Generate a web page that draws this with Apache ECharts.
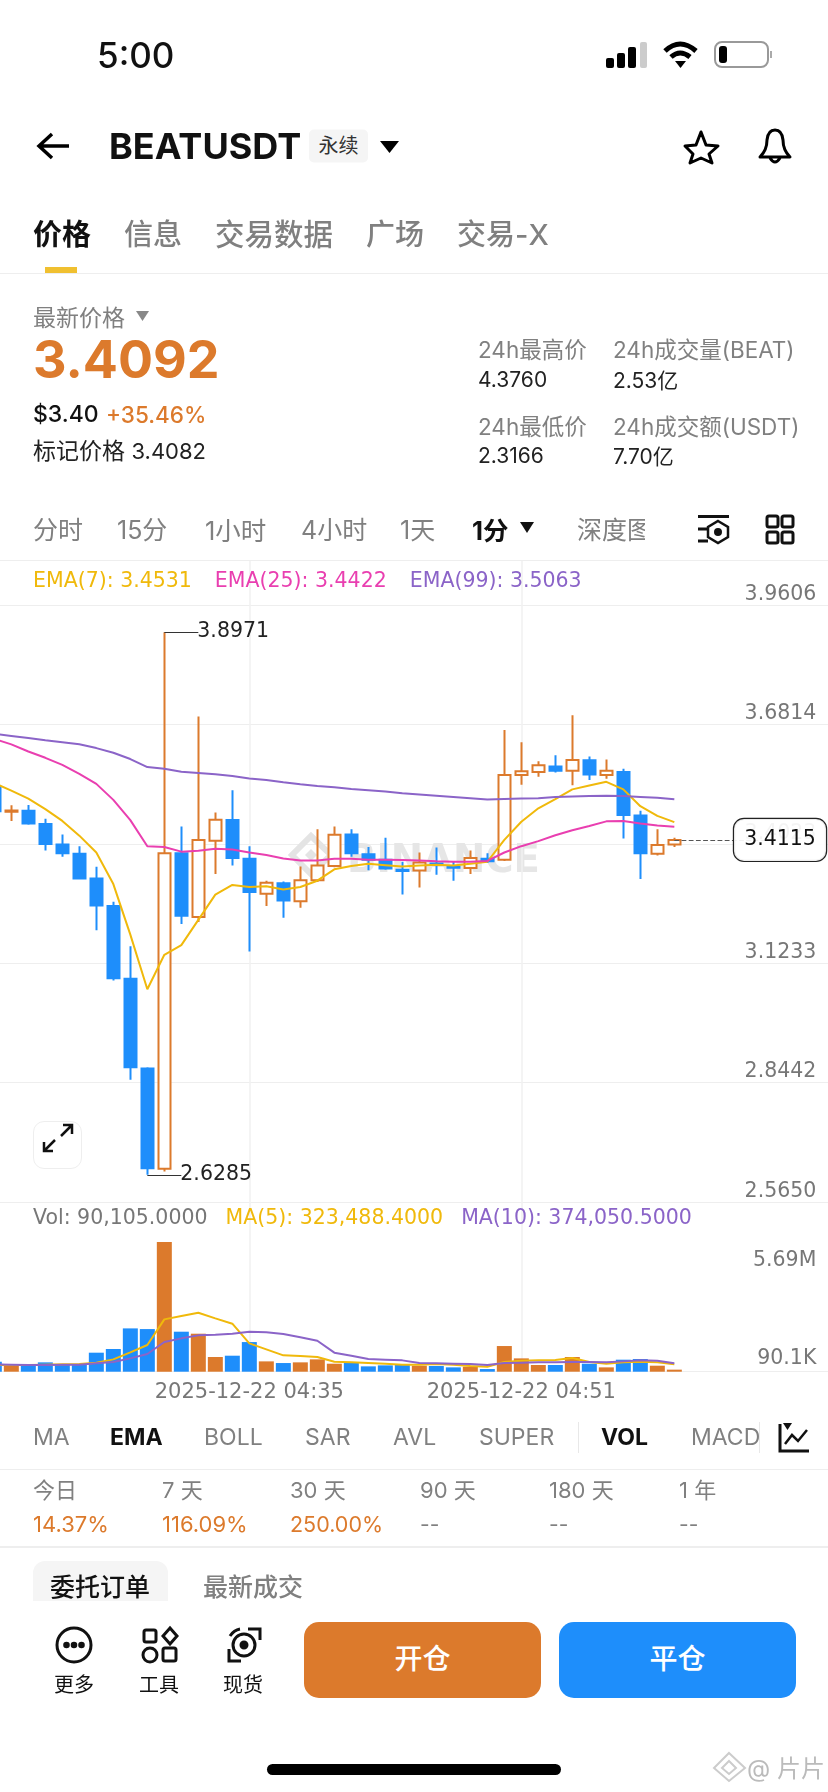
<!DOCTYPE html>
<html>
<head>
<meta charset="utf-8">
<title>BEATUSDT</title>
<style>
html, body { margin: 0; padding: 0; background: #fff; }
body { position: relative; width: 828px; height: 1792px; overflow: hidden; font-family: Inter, "Noto Sans CJK SC", sans-serif; color: #111; }
#klineChart { position: absolute; left: 0; top: 0; width: 828px; height: 1792px; }
.t { position: absolute; white-space: nowrap; transform: translateY(-50%); }
.g { color: #808080; }
.o { color: #dc7a2c; }
.b { font-weight: 700; }
.line { position: absolute; left: 0; width: 828px; height: 1px; background: #eee; }
svg { position: absolute; overflow: visible; }
.btn { position: absolute; top: 1622px; width: 237px; height: 76px; line-height: 74px; border-radius: 15px; color: #fff; font-size: 28px; text-align: center; font-weight: 500; }
</style>
</head>
<body>
<div id="klineChart"></div>

<!-- 状态栏 -->
<div class="t" style="left:97px;top:55px;font-size:35px;font-weight:500;">5:00</div>
<svg style="left:0;top:0;" width="828" height="120">
  <rect x="606" y="58" width="8" height="10" rx="2"/><rect x="617" y="53" width="8" height="15" rx="2"/><rect x="628" y="47" width="8" height="21" rx="2"/><rect x="640" y="42" width="7" height="26" rx="2" fill="#ccc"/>
  <path d="M665 51 Q680 37 696 51 M671 57 Q680 49 690 57" fill="none" stroke="#000" stroke-width="5"/><path d="M675 61 L686 61 L680.500 68 Z"/>
  <rect x="715" y="42" width="53" height="25" rx="7" fill="none" stroke="#999" stroke-width="2"/><rect x="719" y="46" width="8" height="17" rx="3"/><rect x="770" y="51" width="2" height="7" fill="#aaa"/>
</svg>

<!-- 标题 -->
<svg style="left:0;top:0;" width="828" height="240" fill="none" stroke="#000" stroke-width="3.500">
  <path d="M69 146 L39 146 M52 134 L39 146 L52 158"/>
  <path d="M701 132 L706 145 L718 146 L709 154 L712 163 L701 158 L690 163 L693 154 L685 146 L696 145 Z" stroke-width="3" stroke-linejoin="round"/>
  <path d="M760 157 Q767 150 767 140 Q768 130 775 130 Q782 130 783 140 Q783 150 790 157 Z M770 158 Q775 166 780 158" stroke-width="3" stroke-linejoin="round"/>
  <path d="M380 141 L399 141 L389.500 153 Z" fill="#000" stroke="none"/>
</svg>
<div class="t b" style="left:109px;top:146px;font-size:36px;">BEATUSDT</div>
<div class="t" style="left:309px;top:146px;width:59px;height:33px;line-height:33px;text-align:center;background:#f5f5f5;border-radius:5px;font-size:20px;color:#333;">永续</div>

<!-- 页签 -->
<div class="t b" style="left:33px;top:232px;font-size:29px;">价格</div>
<div class="t g" style="left:124px;top:232px;font-size:29px;font-weight:500;">信息</div>
<div class="t g" style="left:215px;top:232px;font-size:29.500px;font-weight:500;">交易数据</div>
<div class="t g" style="left:366px;top:232px;font-size:29px;font-weight:500;">广场</div>
<div class="t g" style="left:457px;top:232px;font-size:29px;font-weight:500;">交易-X</div>
<div style="position:absolute;left:45px;top:267px;width:32px;height:6px;background:#f0c030;"></div>
<div class="line" style="top:273px;"></div>

<!-- 行情 -->
<div class="t g" style="left:33px;top:316px;font-size:23px;">最新价格</div>
<svg style="left:0;top:0;" width="200" height="330"><path d="M136 311 L149 311 L142.500 321 Z" fill="#888"/></svg>
<div class="t o b" style="left:33px;top:359px;font-size:52px;">3.4092</div>
<div class="t" style="left:33px;top:414px;font-size:23px;font-weight:500;">$3.40</div>
<div class="t o" style="left:106px;top:414px;font-size:22.500px;font-weight:500;">+35.46%</div>
<div class="t" style="left:33px;top:449px;font-size:23px;color:#222;">标记价格 <span style="font-size:22px;">3.4082</span></div>
<div class="t g" style="left:478px;top:348px;font-size:22.500px;">24h最高价</div>
<div class="t" style="left:478px;top:379px;font-size:21px;color:#222;">4.3760</div>
<div class="t g" style="left:478px;top:425px;font-size:22.500px;">24h最低价</div>
<div class="t" style="left:478px;top:455px;font-size:21px;color:#222;">2.3166</div>
<div class="t g" style="left:613px;top:348px;font-size:22.500px;">24h成交量(BEAT)</div>
<div class="t" style="left:613px;top:379px;font-size:21px;color:#222;">2.53亿</div>
<div class="t g" style="left:613px;top:425px;font-size:22.500px;">24h成交额(USDT)</div>
<div class="t" style="left:613px;top:455px;font-size:21px;color:#222;">7.70亿</div>

<!-- 周期 -->
<div class="t g" style="left:33px;top:528px;font-size:25px;">分时</div>
<div class="t g" style="left:117px;top:528px;font-size:25px;">15分</div>
<div class="t g" style="left:205px;top:528px;font-size:25.500px;">1小时</div>
<div class="t g" style="left:301px;top:528px;font-size:25px;">4小时</div>
<div class="t g" style="left:400px;top:528px;font-size:25px;">1天</div>
<div class="t b" style="left:472px;top:528px;font-size:25.500px;">1分</div>
<div class="t g" style="left:577px;top:528px;font-size:25px;width:68px;overflow:hidden;">深度图</div>
<svg style="left:0;top:500px;" width="828" height="60" fill="none" stroke="#111" stroke-width="3">
  <path d="M520 22 L534 22 L527 33 Z" fill="#111" stroke="none"/>
  <path d="M698 16.500 L729 16.500 M698 29 L708 29 M698 41 L708 41"/>
  <path d="M718 21 L728 27 L728 37 L718 43 L708 37 L708 27 Z" stroke-width="2.500"/><circle cx="718" cy="32" r="2.500" fill="#111"/>
  <rect x="767" y="16" width="11" height="11" rx="2"/><rect x="782" y="16" width="11" height="11" rx="2"/><rect x="767" y="32" width="11" height="11" rx="2"/><rect x="782" y="32" width="11" height="11" rx="2"/>
</svg>
<div class="line" style="top:560px;"></div>

<!-- 放大按钮 -->
<div style="position:absolute;left:33px;top:1121px;width:47px;height:46px;border:1.500px solid #eee;border-radius:11px;background:#fff;"></div>
<svg style="left:0;top:1100px;" width="100" height="80" fill="none" stroke="#111" stroke-width="2.500">
  <path d="M61 36 L72 25 M63 25 L72 25 L72 34 M44 51 L55 40 M44 42 L44 51 L53 51"/>
</svg>

<!-- 指标 -->
<div class="t g" style="left:33px;top:1437px;font-size:23px;">MA</div>
<div class="t b" style="left:110px;top:1437px;font-size:23px;">EMA</div>
<div class="t g" style="left:204px;top:1437px;font-size:23px;">BOLL</div>
<div class="t g" style="left:305px;top:1437px;font-size:23px;">SAR</div>
<div class="t g" style="left:393px;top:1437px;font-size:23px;">AVL</div>
<div class="t g" style="left:479px;top:1437px;font-size:23px;">SUPER</div>
<div class="t b" style="left:601px;top:1437px;font-size:23px;">VOL</div>
<div class="t g" style="left:691px;top:1437px;font-size:23px;width:68px;overflow:hidden;">MACD</div>
<div style="position:absolute;left:578px;top:1422px;width:1px;height:31px;background:#e8e8e8;"></div>
<div style="position:absolute;left:759px;top:1422px;width:1px;height:31px;background:#e8e8e8;"></div>
<svg style="left:0;top:1400px;" width="828" height="60" fill="none" stroke="#111" stroke-width="3">
  <path d="M780 24 L780 51 L809 51"/><path d="M785 44 L792 35 L798 41 L807 30" stroke-width="2.500"/><path d="M783 23 L792 23 L787.500 30 Z" fill="#111" stroke="none"/>
</svg>
<div class="line" style="top:1469px;"></div>

<!-- 涨跌幅 -->
<div class="t g" style="left:33px;top:1488px;font-size:22px;">今日</div>
<div class="t g" style="left:162px;top:1488px;font-size:22px;">7 天</div>
<div class="t g" style="left:290px;top:1488px;font-size:22px;">30 天</div>
<div class="t g" style="left:420px;top:1488px;font-size:22px;">90 天</div>
<div class="t g" style="left:549px;top:1488px;font-size:22px;">180 天</div>
<div class="t g" style="left:679px;top:1488px;font-size:22px;">1 年</div>
<div class="t o" style="left:33px;top:1524px;font-size:22px;">14.37%</div>
<div class="t o" style="left:162px;top:1524px;font-size:22px;">116.09%</div>
<div class="t o" style="left:290px;top:1524px;font-size:21.500px;">250.00%</div>
<div class="t g" style="left:420px;top:1524px;font-size:21px;">--</div>
<div class="t g" style="left:549px;top:1524px;font-size:21px;">--</div>
<div class="t g" style="left:679px;top:1524px;font-size:21px;">--</div>
<div class="line" style="top:1546px;height:2px;"></div>

<!-- 委托 -->
<div style="position:absolute;left:33px;top:1561px;width:135px;height:40px;background:#f5f5f5;border-radius:12px 12px 0 0;"></div>
<div class="t" style="left:50px;top:1585px;font-size:25px;font-weight:500;">委托订单</div>
<div class="t g" style="left:203px;top:1585px;font-size:25px;font-weight:500;">最新成交</div>

<!-- 底部 -->
<svg style="left:0;top:1600px;" width="300" height="80" fill="none" stroke="#111" stroke-width="3">
  <circle cx="74" cy="45" r="17"/><circle cx="66.500" cy="45" r="1.800" fill="#111"/><circle cx="74" cy="45" r="1.800" fill="#111"/><circle cx="81.500" cy="45" r="1.800" fill="#111"/>
  <rect x="144" y="30" width="12" height="12" rx="2"/><path d="M170 28 L177 36 L170 44 L163 36 Z"/><circle cx="150" cy="55" r="7"/><rect x="163" y="48" width="13" height="13" rx="2"/>
  <circle cx="244" cy="45" r="11"/><circle cx="244" cy="45" r="3" fill="#111"/><path d="M248 29 L260 29 L260 40 M229 49 L229 61 L241 61 M230 36 Q234 30 240 29"/>
</svg>
<div class="t" style="left:54px;top:1683px;font-size:20px;">更多</div>
<div class="t" style="left:139px;top:1683px;font-size:20px;">工具</div>
<div class="t" style="left:223px;top:1683px;font-size:20px;">现货</div>
<div class="btn" style="left:304px;background:#dc7a2c;">开仓</div>
<div class="btn" style="left:559px;background:#1e8efb;">平仓</div>
<div style="position:absolute;left:267px;top:1764px;width:294px;height:11px;border-radius:6px;background:#000;"></div>

<!-- 水印 -->
<svg style="left:0;top:1740px;" width="828" height="50" fill="none" stroke="#ccc" stroke-width="2">
  <path d="M729 13 L745 28 L729 41 L714 28 Z M729 21 L736 28 L729 34 L722 28 Z"/>
</svg>
<div class="t" style="left:747px;top:1766px;font-size:24px;color:#bbb;">@ 片片</div>

<script src="https://cdn.jsdelivr.net/npm/echarts@6/dist/echarts.min.js"></script>
<script>
// 分钟K线 04:20 开始
var categories = ['04:20','04:21','04:22','04:23','04:24','04:25','04:26','04:27','04:28','04:29',
    '04:30','04:31','04:32','04:33','04:34','04:35','04:36','04:37','04:38','04:39',
    '04:40','04:41','04:42','04:43','04:44','04:45','04:46','04:47','04:48','04:49',
    '04:50','04:51','04:52','04:53','04:54','04:55','04:56','04:57','04:58','04:59',
    '05:00','05:01','05:02','05:03','05:04','05:05','05:06','05:07','05:08','05:09'];
var dateLabels = ['04:35', '04:51'];
var datePrefix = '2025-12-22 ';

var opens = [3.5345,3.4775,3.4794,3.4489,3.4007,3.3791,3.3210,3.2571,3.0868,2.8772,
    2.6430,3.3801,3.2315,3.4096,3.4578,3.3673,3.2856,3.3102,3.2679,3.3171,
    3.3505,3.4243,3.3781,3.3653,3.3417,3.3397,3.3564,3.3486,3.3456,3.3673,
    3.3653,3.5631,3.5700,3.5828,3.5729,3.5975,3.5631,3.5700,3.4686,3.3791,3.4007];
var closes = [3.4785,3.4804,3.4499,3.4017,3.3801,3.3210,3.2580,3.0878,2.8802,2.6440,
    3.3801,3.2344,3.4115,3.4588,3.3692,3.2895,3.3112,3.2698,3.3171,3.3515,
    3.4233,3.3801,3.3653,3.3446,3.3387,3.3584,3.3545,3.3466,3.3692,3.3614,
    3.5631,3.5719,3.5857,3.5729,3.5985,3.5641,3.5729,3.4696,3.3801,3.3997,3.4115];
var lows = [3.4755,3.4558,3.4470,3.3869,3.3722,3.3200,3.2000,3.0829,2.8507,2.6285,
    2.6361,3.2147,3.2197,3.3318,3.3515,3.1508,3.2571,3.2295,3.2531,3.3131,
    3.3476,3.3722,3.3407,3.3417,3.2836,3.3004,3.3299,3.3161,3.3318,3.3574,
    3.3623,3.5404,3.5591,3.5690,3.5395,3.5513,3.5542,3.4145,3.3200,3.3751,3.3948];
var highs = [3.5444,3.4922,3.4932,3.4607,3.4243,3.3968,3.3486,3.2669,3.1626,2.8802,
    3.8971,3.4430,3.6999,3.4755,3.5277,3.3968,3.3161,3.3141,3.3495,3.4361,
    3.4430,3.4361,3.3948,3.4165,3.3604,3.3820,3.3938,3.3604,3.3869,3.3801,
    3.6684,3.6398,3.5955,3.6093,3.7028,3.6064,3.5995,3.5778,3.4794,3.4361,3.4165];

var ema7 = [3.5444,3.5267,3.5080,3.4834,3.4558,3.4214,3.3820,3.3082,3.1901,3.0622,
    3.1429,3.1655,3.2246,3.2836,3.3063,3.3013,3.3033,3.2954,3.3013,3.3161,
    3.3427,3.3505,3.3555,3.3525,3.3495,3.3515,3.3535,3.3515,3.3555,3.3604,
    3.4115,3.4539,3.4853,3.5070,3.5296,3.5385,3.5473,3.5296,3.4903,3.4676,3.4531];
var ema25 = [3.6477,3.6349,3.6182,3.6034,3.5867,3.5660,3.5424,3.5050,3.4578,3.3968,
    3.3948,3.3840,3.3860,3.3909,3.3889,3.3820,3.3761,3.3682,3.3633,3.3633,
    3.3673,3.3673,3.3653,3.3653,3.3643,3.3633,3.3614,3.3604,3.3604,3.3623,
    3.3820,3.3968,3.4086,3.4224,3.4342,3.4440,3.4548,3.4558,3.4499,3.4450,3.4422];
var ema99 = [3.6595,3.6546,3.6497,3.6447,3.6398,3.6349,3.6261,3.6152,3.6005,3.5818,
    3.5778,3.5709,3.5680,3.5650,3.5611,3.5552,3.5513,3.5463,3.5414,3.5375,
    3.5345,3.5306,3.5277,3.5247,3.5208,3.5178,3.5149,3.5119,3.5090,3.5060,
    3.5070,3.5080,3.5090,3.5119,3.5129,3.5139,3.5149,3.5139,3.5119,3.5099,3.5063];

var volumes = [439000,293000,336000,410000,336000,336000,834000,995000,1900000,1870000,
    5690000,1755000,1667000,644000,702000,1300000,453000,380000,410000,541000,
    351000,395000,234000,278000,307000,263000,249000,190000,219000,117000,
    1126000,585000,293000,293000,644000,351000,190000,527000,556000,263000,90105];
var volMa5 = [293000,293000,293000,307000,322000,336000,395000,541000,848000,1170000,
    2296000,2443000,2589000,2340000,2106000,1243000,980000,717000,687000,644000,
    439000,410000,380000,351000,307000,307000,336000,307000,249000,219000,
    424000,483000,497000,512000,600000,424000,351000,410000,439000,410000,323488];
var volMa10 = [322000,307000,293000,293000,307000,307000,366000,424000,585000,775000,
    1302000,1463000,1594000,1624000,1667000,1755000,1726000,1653000,1507000,1360000,
    834000,702000,556000,527000,497000,380000,366000,351000,336000,293000,
    380000,395000,410000,410000,424000,424000,410000,453000,497000,483000,374050];

var priceTicks = [2.5650, 2.8442, 3.1233, 3.4023, 3.6814, 3.9606];
var volumeTicks = [90105, 5690000];
var priceMin = 2.5650;
var priceMax = 4.0658;
var volumeMax = 7445000;
var lastPrice = 3.4115;
var peakIndex = 10;
var troughIndex = 9;

var colorUp = '#dc7a2c';
var colorDown = '#1e8efb';
var chartFont = 'DejaVu Sans';
var chartFontSize = 20.5;
var legendText = {
    'EMA(7)': 'EMA(7): 3.4531',
    'EMA(25)': 'EMA(25): 3.4422',
    'EMA(99)': 'EMA(99): 3.5063',
    'Vol': 'Vol: 90,105.0000',
    'MA(5)': 'MA(5): 323,488.4000',
    'MA(10)': 'MA(10): 374,050.5000'
};

var initKline = function () {
    var myChart = echarts.init(document.getElementById('klineChart'));

    var candleData = [];
    var volumeData = [];
    for (var i = 0; i < opens.length; i++) {
        candleData.push([opens[i], closes[i], lows[i], highs[i]]);
        volumeData.push({
            value: volumes[i],
            itemStyle: {color: closes[i] >= opens[i] ? colorUp : colorDown}
        });
    }
    var lastIndex = opens.length - 1;

    function isDateTick(index) {
        return dateLabels.indexOf(categories[index]) >= 0;
    }

    function categoryAxis(gridIndex, showLabel) {
        return {
            type: 'category',
            gridIndex: gridIndex,
            data: categories,
            boundaryGap: true,
            axisLine: {show: showLabel, lineStyle: {color: '#eee'}},
            axisTick: {show: false},
            splitLine: {show: false},
            axisLabel: {
                show: showLabel,
                interval: isDateTick,
                margin: 10,
                color: '#777',
                fontFamily: chartFont,
                fontSize: 21,
                formatter: function (val) {
                    return datePrefix + val;
                }
            }
        };
    }

    function lineSeries(name, data, color, axisIndex, width) {
        return {
            name: name,
            type: 'line',
            xAxisIndex: axisIndex,
            yAxisIndex: axisIndex,
            data: data,
            symbol: 'none',
            smooth: false,
            silent: true,
            z: 5,
            lineStyle: {color: color, width: width},
            itemStyle: {color: color}
        };
    }

    // 日期竖线,压在K线下面
    function dateLineSeries(axisIndex) {
        return {
            name: 'dateLine' + axisIndex,
            type: 'line',
            xAxisIndex: axisIndex,
            yAxisIndex: axisIndex,
            data: [],
            silent: true,
            z: 1,
            markLine: {
                z: 1,
                silent: true,
                symbol: 'none',
                animation: false,
                label: {show: false},
                lineStyle: {color: '#f0f0f0', width: 1.5, type: 'solid'},
                data: dateLabels.map(function (name) {
                    return {xAxis: name};
                })
            }
        };
    }

    function extremeLine(index, value) {
        return [{
            coord: [index, value],
            label: {show: true, position: 'end', distance: -1, padding: [4, 0, 0, 0], formatter: value.toFixed(4),
                color: '#222', fontFamily: chartFont, fontSize: chartFontSize},
            lineStyle: {color: '#333', width: 1, type: 'solid'}
        }, {
            coord: [index + 2, value]
        }];
    }

    myChart.setOption({
        animation: false,
        grid: [
            {left: -14.17, width: 850, top: 560, height: 642, outerBoundsMode: 'none'},
            {left: -14.17, width: 850, top: 1202, height: 169.7, outerBoundsMode: 'none'}
        ],
        legend: [
            {
                left: 28, top: 571, padding: 0, itemWidth: 0, itemHeight: 0, itemGap: 18,
                icon: 'none', selectedMode: false,
                textStyle: {fontFamily: chartFont, fontSize: chartFontSize, padding: 0},
                data: [
                    {name: 'EMA(7)', textStyle: {color: '#f0b90b'}},
                    {name: 'EMA(25)', textStyle: {color: '#e93fb0'}},
                    {name: 'EMA(99)', textStyle: {color: '#8b64c8'}}
                ],
                formatter: function (name) {
                    return legendText[name];
                }
            },
            {
                left: 28, top: 1208, padding: 0, itemWidth: 0, itemHeight: 0, itemGap: 13,
                icon: 'none', selectedMode: false,
                textStyle: {fontFamily: chartFont, fontSize: chartFontSize, padding: 0},
                data: [
                    {name: 'Vol', textStyle: {color: '#777'}},
                    {name: 'MA(5)', textStyle: {color: '#f0b90b'}},
                    {name: 'MA(10)', textStyle: {color: '#8b64c8'}}
                ],
                formatter: function (name) {
                    return legendText[name];
                }
            }
        ],
        xAxis: [categoryAxis(0, false), categoryAxis(1, true)],
        yAxis: [
            {
                type: 'value',
                gridIndex: 0,
                position: 'right',
                min: priceMin,
                max: priceMax,
                axisLine: {show: false},
                axisTick: {show: false, customValues: priceTicks},
                splitLine: {show: true, lineStyle: {color: '#eee'}},
                axisLabel: {
                    inside: true,
                    customValues: priceTicks,
                    margin: 19.5,
                    verticalAlign: 'bottom',
                    color: '#777',
                    fontFamily: chartFont,
                    fontSize: chartFontSize,
                    formatter: function (val) {
                        return val.toFixed(4);
                    }
                }
            },
            {
                type: 'value',
                gridIndex: 1,
                position: 'right',
                min: 0,
                max: volumeMax,
                axisLine: {show: false},
                axisTick: {show: false, customValues: volumeTicks},
                splitLine: {show: false},
                axisLabel: {
                    inside: true,
                    customValues: volumeTicks,
                    margin: 19.5,
                    verticalAlignMinLabel: 'bottom',
                    verticalAlignMaxLabel: 'top',
                    color: '#777',
                    fontFamily: chartFont,
                    fontSize: chartFontSize,
                    formatter: function (val) {
                        if (val >= 1000000) {
                            return '{hi|' + (val / 1000000).toFixed(2) + 'M}';
                        }
                        return (val / 1000).toFixed(1) + 'K';
                    },
                    rich: {
                        hi: {padding: [8, 0, 0, 0], color: '#777', fontFamily: chartFont, fontSize: chartFontSize}
                    }
                }
            }
        ],
        graphic: [
            // 水印
            {
                type: 'text', left: 347, top: 842, silent: true, z: 1,
                style: {text: 'BINANCE', fill: '#e6e6e6', font: 'bold 38.6px "DejaVu Sans"'}
            },
            {
                type: 'polygon', silent: true, z: 1,
                shape: {points: [[311, 836], [331, 855], [311, 874], [292, 855]]},
                style: {fill: 'none', stroke: '#e4e4e4', lineWidth: 6}
            },
            {
                type: 'polygon', silent: true, z: 1,
                shape: {points: [[311, 849], [317, 855], [311, 861], [305, 855]]},
                style: {fill: '#e4e4e4'}
            }
        ],
        series: [
            dateLineSeries(0),
            dateLineSeries(1),
            {
                name: 'K',
                type: 'candlestick',
                xAxisIndex: 0,
                yAxisIndex: 0,
                data: candleData,
                barWidth: 13,
                z: 3,
                itemStyle: {
                    color: '#fff',
                    color0: colorDown,
                    borderColor: colorUp,
                    borderColor0: colorDown,
                    borderWidth: 2
                },
                markLine: {
                    silent: true,
                    symbol: 'none',
                    animation: false,
                    data: [
                        extremeLine(peakIndex, highs[peakIndex]),
                        extremeLine(troughIndex, lows[troughIndex]),
                        [{
                            coord: [lastIndex, lastPrice],
                            label: {show: false},
                            lineStyle: {color: '#555', width: 1.2, type: 'dashed'}
                        }, {
                            coord: [46, lastPrice]
                        }]
                    ]
                },
                markPoint: {
                    silent: true,
                    animation: false,
                    data: [{
                        coord: [46, lastPrice],
                        symbol: 'circle',
                        symbolSize: 1,
                        itemStyle: {color: 'rgba(255,255,255,0)'},
                        label: {show: true, position: 'inside', offset: [3.7, 0], formatter: lastPrice.toFixed(4),
                            width: 92, height: 42, lineHeight: 42, align: 'center', verticalAlign: 'middle',
                            backgroundColor: 'rgba(255,255,255,0.92)', borderColor: '#222', borderWidth: 1.2, borderRadius: 10,
                            color: '#111', fontFamily: chartFont, fontSize: chartFontSize}
                    }]
                }
            },
            lineSeries('EMA(7)', ema7, '#f0b90b', 0, 2),
            lineSeries('EMA(25)', ema25, '#e93fb0', 0, 2),
            lineSeries('EMA(99)', ema99, '#8b64c8', 0, 2),
            {
                name: 'Vol',
                type: 'bar',
                xAxisIndex: 1,
                yAxisIndex: 1,
                data: volumeData,
                barWidth: 15,
                silent: true,
                z: 2,
                itemStyle: {color: colorDown}
            },
            lineSeries('MA(5)', volMa5, '#f0b90b', 1, 2),
            lineSeries('MA(10)', volMa10, '#8b64c8', 1, 2)
        ]
    });
};
initKline();
</script>
</body>
</html>
